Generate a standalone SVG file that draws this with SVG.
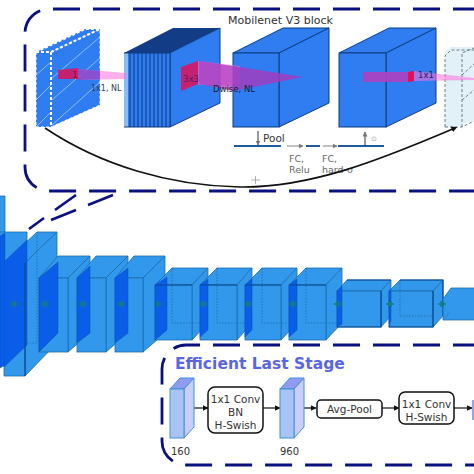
<svg xmlns="http://www.w3.org/2000/svg" width="474" height="474" viewBox="0 0 474 474">
<style>
text{font-family:"DejaVu Sans",sans-serif}
.dash{fill:none;stroke:#0a1080;stroke-width:2.8;stroke-dasharray:27 13}
.solid{fill:#2f7df0;stroke:#0d3f80;stroke-width:1}
.top{fill:#2f7df0;stroke:#0d3f80;stroke-width:1}
.cube{fill:#3298ec;stroke:#1c6cac;stroke-width:.8}
.plane{fill:#0a5de8;stroke:#0a50b0;stroke-width:.5}
.hid{fill:none;stroke:#1c6cac;stroke-width:.8;stroke-dasharray:1.500 1.500}
.ft{stroke:#0b4a90;stroke-width:1.200;fill:none}
.star{fill:#137a86;opacity:.8}
.pink{fill:#ff70d8;opacity:.55}
.kern{fill:#e0105a;opacity:.85}
.sm{font-size:9.500px;fill:#666}
.sl{fill:#c9cdf8;stroke:#3f8fe0;stroke-width:1}
.slt{fill:#8f9cf2;stroke:#3f8fe0;stroke-width:1}
.box{fill:#fff;stroke:#111;stroke-width:1.500}
.bt{font-size:10.500px;fill:#333;text-anchor:middle}
.ar{stroke:#111;stroke-width:1.200;fill:none;marker-end:url(#a)}
.ga{stroke:#777;stroke-width:.9;fill:none;marker-end:url(#g)}
.bar{stroke:#1f5aa8;stroke-width:2}
</style>
<defs>
<marker id="a" markerWidth="6" markerHeight="6" refX="4.500" refY="2.500" orient="auto"><path d="M0 0L5 2.500L0 5z" fill="#111"/></marker>
<marker id="g" markerWidth="6" markerHeight="6" refX="4.500" refY="2.500" orient="auto"><path d="M0 0L5 2.500L0 5z" fill="#777"/></marker>
<marker id="k" markerWidth="6" markerHeight="6" refX="3.500" refY="3" orient="auto" markerUnits="userSpaceOnUse"><path d="M0 0L6 3L0 6z" fill="#111"/></marker>
</defs>

<path class="dash" d="M480 9H49A24 24 0 0 0 25 33V167A24 24 0 0 0 49 191H480"/>
<path d="M29 229L44 218M55 210L76 195M51 220L76 210M88 205L113 195" stroke="#0a1080" stroke-width="2.600" fill="none"/>

<g id="mb-slab-in">
<path d="M36 52L51 52L100 29L85 29z" fill="#2f7df0"/>
<path d="M36 52H51V127H36z" fill="#2f7df0"/>
<path d="M51 52L100 29V105L51 127z" fill="#2f7df0"/>
<path d="M36 127L51 112M36 100L51 85M36 75L51 62M52 125L100 82M52 100L100 58M52 78L100 37" stroke="#cfe3ff" stroke-width=".6" fill="none"/>
<path d="M36 52H51V127M51 52L100 29M36 52L85 29H100" stroke="#fff" stroke-width="2" stroke-dasharray="3 2" fill="none"/>
<path d="M36 52V127H51L100 105V29" stroke="#fff" stroke-width="1" stroke-dasharray="3 2" fill="none"/>
</g>
<g id="mb-block-expand">
<path d="M124 53L173 28H220L170 53z" fill="#123c86"/>
<path d="M170 53L220 28V103L170 127z" class="solid"/>
<rect x="124" y="53" width="46" height="74" fill="#2f7df0"/>
<rect x="124" y="53" width="4" height="74" fill="#8cbcf2"/>
<path d="M130 53V127M134 53V127M138 53V127M142 53V127M146 53V127M150 53V127M154 53V127M158 53V127M162 53V127M166 53V127" stroke="#123c86" stroke-width="1.100"/>
<path d="M124 53H170V127H124" fill="none" stroke="#0d3f80"/>
</g>
<g id="mb-block-dwise">
<path d="M233 53L283 28H329L279 53z" class="top"/>
<path d="M279 53L329 28V103L279 127z" class="top"/>
<rect x="233" y="53" width="46" height="74" class="top"/>
</g>
<g id="mb-block-out">
<path d="M339 53L389 28H436L386 53z" class="top"/>
<path d="M386 53L436 28V103L386 127z" class="top"/>
<rect x="339" y="53" width="47" height="74" class="top"/>
</g>
<g id="mb-slab-out">
<path d="M445 52L451 47H474V120L456 127H445z" fill="#e2f0f8"/>
<path d="M445 127V56L451 50H474M462 127V53L474 48M445 127H462L474 121M462 100L474 90M462 75L474 64" fill="none" stroke="#6a7f88" stroke-width="1" stroke-dasharray="3 2"/>
</g>

<g id="kernels">
<path class="pink" d="M78 69L126 73V79L78 80z"/>
<path d="M78 69L100 71V79L78 80z" fill="#8040c8" opacity=".7"/>
<path class="kern" d="M58 70L78 68V79H58z"/>
<text x="75" y="78" font-size="8.500" fill="#7a1040" text-anchor="middle">1</text>
<text x="91" y="91" font-size="8" fill="#345">1x1, NL</text>
<path class="pink" d="M198 61L240 66V85L198 85z"/>
<path d="M233 66L303 77L233 91z" fill="#a03cc0" opacity=".85"/>
<path d="M199 61L233 66V91L199 84z" fill="#b040c0" opacity=".8"/>
<path class="kern" d="M181 67L198 61V84L181 91z"/>
<text x="191" y="82" font-size="8.500" fill="#502060" text-anchor="middle">3x3</text>
<text x="213" y="92" font-size="8.500" fill="#123">Dwise, NL</text>
<path d="M363 72H409V82H363z" fill="#b040c0" opacity=".9"/>
<path d="M408 72L414 71V81L408 82z" fill="#e0105a"/>
<path class="pink" d="M414 71L474 78V80L414 81z"/>
<text x="418" y="78" font-size="8.500" fill="#302050">1x1</text>
</g>

<g id="mb-title"><text x="228" y="24" font-size="11" fill="#333">Mobilenet V3 block</text></g>

<g id="se-branch">
<path class="bar" d="M234 146H281M306 146H320M338 146H384"/>
<path d="M258 131V145" stroke="#333" stroke-width="1" marker-end="url(#g)"/>
<path d="M365 146V132" stroke="#333" stroke-width="1" marker-end="url(#g)"/>
<text x="263" y="142" font-size="10.500" fill="#333">Pool</text>
<path class="ga" d="M287 146H303"/>
<path class="ga" d="M323 146H337"/>
<text class="sm" x="289" y="162">FC,</text>
<text class="sm" x="289" y="173">Relu</text>
<text class="sm" x="322" y="162">FC,</text>
<text class="sm" x="322" y="173">hard-σ</text>
<text x="374" y="141" font-size="7" fill="#aaa" text-anchor="middle">⊙</text>
<path d="M251 180H260M255.500 176V184" stroke="#999" stroke-width=".8"/>
</g>

<g id="connectors">
<path d="M45 128C100 165 170 186 240 187C310 188 380 160 455 128" fill="none" stroke="#111" stroke-width="1.600" marker-end="url(#k)"/>
<path class="ar" d="M191 408H208"/><path class="ar" d="M263 408H280"/><path class="ar" d="M298 408H316"/><path class="ar" d="M382 408H399"/><path class="ar" d="M454 408H472"/>
</g>

<g id="net">
<g id="n0"><path class="cube" d="M-20 196H5V310H-20z"/></g>
<g id="n1"><path class="cube" d="M-15 262L0 232H27V345L0 367H-15z"/></g>
<g id="n2"><path class="cube" d="M4 263L37 232H57L25 263z"/><path class="cube" d="M25 263L57 232V343L25 376z"/><path class="cube" d="M4 263H25V376H4z"/><path class="hid" d="M37 232V343H4"/></g>
<path id="plane-a" class="plane" d="M0 236L5 233V365L0 368z"/>
<path id="plane-b" class="plane" d="M4 262L27 240V345L4 367z"/>
<path d="M25 263V376" class="ft"/>
<g id="n3"><path class="cube" d="M39 278L58 256H90L68 278z"/><path class="cube" d="M68 278L90 256V333L68 352z"/><rect class="cube" x="39" y="278" width="29" height="74"/><path class="plane" d="M39 278L58 262V333L39 352z"/></g>
<g id="n4"><path class="cube" d="M77 278L96 256H128L106 278z"/><path class="cube" d="M106 278L128 256V333L106 352z"/><rect class="cube" x="77" y="278" width="29" height="74"/><path class="plane" d="M77 278L90 266V333L77 343z"/></g>
<g id="n5"><path class="cube" d="M115 278L134 256H165L143 278z"/><path class="cube" d="M143 278L165 256V333L143 352z"/><rect class="cube" x="115" y="278" width="28" height="74"/><path class="plane" d="M115 278L128 268V333L115 343z"/></g>
<g id="n6"><path class="cube" d="M155 285L172 268H208L192 285z"/><path class="cube" d="M192 285L208 268V323L192 340z"/><rect class="cube" x="155" y="285" width="37" height="55"/><path class="plane" d="M155 285L167 277V330L155 340z"/><path class="hid" d="M172 268V323H208"/><path class="ft" d="M155 285H192"/></g>
<g id="n7"><path class="cube" d="M200 285L217 268H252L237 285z"/><path class="cube" d="M237 285L252 268V323L237 340z"/><rect class="cube" x="200" y="285" width="37" height="55"/><path class="plane" d="M200 285L208 279V330L200 337z"/><path class="hid" d="M217 268V323H252"/><path class="ft" d="M200 285H237"/></g>
<g id="n8"><path class="cube" d="M245 285L262 268H297L281 285z"/><path class="cube" d="M281 285L297 268V323L281 340z"/><rect class="cube" x="245" y="285" width="36" height="55"/><path class="plane" d="M245 285L252 279V330L245 337z"/><path class="hid" d="M262 268V323H297"/><path class="ft" d="M245 285H281"/></g>
<g id="n9"><path class="cube" d="M289 285L306 268H342L326 285z"/><path class="cube" d="M326 285L342 268V323L326 340z"/><rect class="cube" x="289" y="285" width="37" height="55"/><path class="plane" d="M289 285L297 279V330L289 337z"/><path class="hid" d="M306 268V323H342"/><path class="ft" d="M289 285H326"/></g>
<g id="n10"><path class="cube" d="M337 291L347 280H391L381 291z"/><path class="cube" d="M381 291L391 280V316L381 327z"/><rect class="cube" x="337" y="291" width="44" height="36"/><path class="plane" d="M337 291L342 286V324L337 327z"/><path class="ft" d="M337 327H381V291M347 280H391"/></g>
<g id="n11"><path class="cube" d="M389 291L400 280H443L433 291z"/><path class="cube" d="M433 291L443 280V316L433 327z"/><rect class="cube" x="389" y="291" width="44" height="36"/><path class="plane" d="M389 291L391 289V320L389 327z"/><path class="hid" d="M400 280V316H433"/><path class="ft" d="M389 327H433V291M400 280H443V316"/></g>
<g id="n12"><path class="cube" d="M443 320V299L451 288H480V320z"/><path class="hid" d="M443 320L451 311"/></g>
<g id="stars">
<path class="star" d="M10 303h8v2h-8zM41 303h8v2h-8zM79 303h8v2h-8zM117 303h8v2h-8zM154 303h8v2h-8zM199 303h8v2h-8zM244 303h8v2h-8zM289 303h8v2h-8zM334 303h8v2h-8zM386 303h8v2h-8zM438 303h8v2h-8z"/>
<path class="star" d="M12 301h4v6h-4zM43 301h4v6h-4zM81 301h4v6h-4zM119 301h4v6h-4zM156 301h4v6h-4zM201 301h4v6h-4zM246 301h4v6h-4zM291 301h4v6h-4zM336 301h4v6h-4zM388 301h4v6h-4zM440 301h4v6h-4z"/>
</g>
</g>

<path class="dash" d="M480 345H186A24 24 0 0 0 162 369V441A24 24 0 0 0 186 465H480"/>
<g id="els-title"><text x="175" y="369" font-size="15.500" font-weight="700" fill="#5a66e0">Efficient Last Stage</text></g>
<g id="slab-160">
<path class="slt" d="M170 389L180 378H194L184 389z"/><path class="sl" d="M184 389L194 378V427L184 438z"/><rect x="170" y="389" width="14" height="49" fill="#a9c4f4" stroke="#3f8fe0"/>
<text x="171" y="455" font-size="10" fill="#333">160</text>
</g>
<g id="conv-1"><rect class="box" x="208" y="387" width="55" height="46" rx="7"/><text class="bt" x="235.500" y="403">1x1 Conv</text><text class="bt" x="235.500" y="416">BN</text><text class="bt" x="235.500" y="429">H-Swish</text></g>
<g id="slab-960">
<path class="slt" d="M280 389L290 378H304L294 389z"/><path class="sl" d="M294 389L304 378V427L294 438z"/><rect x="280" y="389" width="14" height="49" fill="#a9c4f4" stroke="#3f8fe0"/>
<text x="280" y="455" font-size="10" fill="#333">960</text>
</g>
<g id="avg-pool"><rect class="box" x="317" y="400" width="65" height="18" rx="4"/><text class="bt" x="349.500" y="413">Avg-Pool</text></g>
<g id="conv-2"><rect class="box" x="399" y="392" width="55" height="32" rx="6"/><text class="bt" x="426.500" y="408">1x1 Conv</text><text class="bt" x="426.500" y="421">H-Swish</text></g>
<g id="out-block"><rect x="472" y="400" width="4" height="20" fill="#8fa8e8"/></g>
</svg>
